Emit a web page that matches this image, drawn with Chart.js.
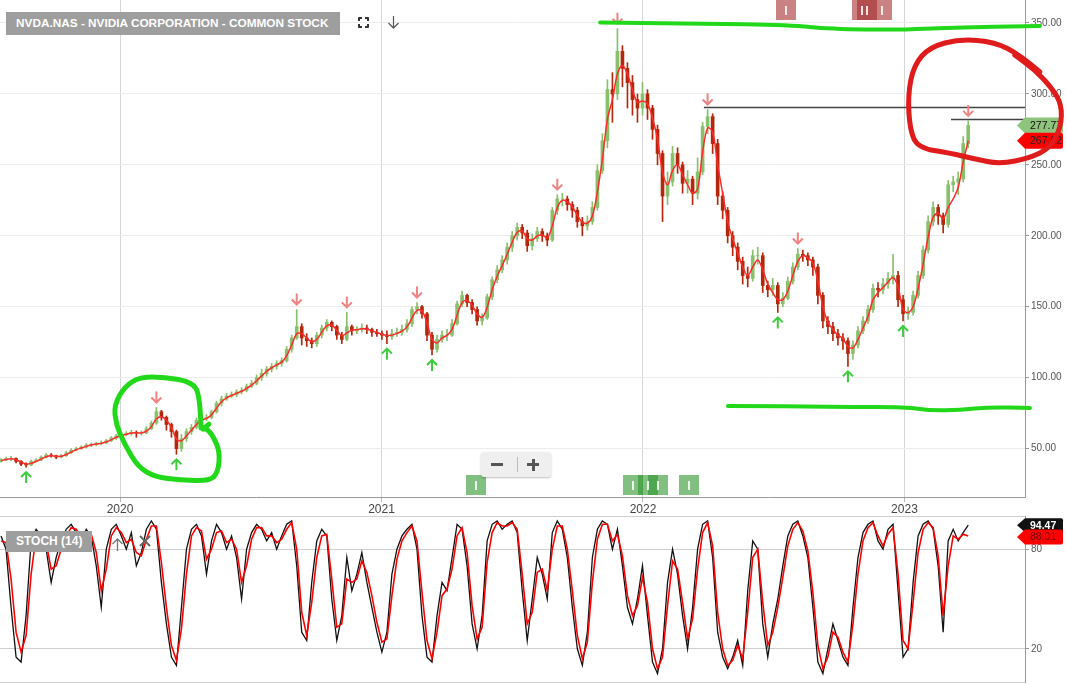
<!DOCTYPE html>
<html>
<head>
<meta charset="utf-8">
<script src="https://cdn.jsdelivr.net/npm/chart.js"></script>
<style>
  html, body { margin: 0; padding: 0; background: #fff; }
  body { width: 1067px; height: 684px; position: relative; overflow: hidden; font-family: Arial, "Liberation Sans", sans-serif; }
  #priceWrap { position: absolute; left: 0; top: 0; width: 1067px; height: 516px; }
  #stochWrap { position: absolute; left: 0; top: 516px; width: 1067px; height: 168px; }
  .tag { position: absolute; box-sizing: border-box; background: #9e9e9e; color: #fff; font-weight: bold; padding: 0 0 0 10px; white-space: nowrap; }
  #titleTag { left: 6px; top: 12px; width: 334px; height: 23px; line-height: 23px; font-size: 11.8px; }
  #stochTag { left: 6px; top: 531px; width: 86px; height: 21px; line-height: 21px; font-size: 12px; }
  #zoomBox { position: absolute; left: 481px; top: 452px; width: 70px; height: 25px; background: #efefef; border-radius: 3px; box-shadow: 0 1px 2px rgba(0,0,0,0.25); }
  #zoomBox .bar { position: absolute; background: #555; }
  #zoomBox .sep { position: absolute; left: 36px; top: 5px; width: 1px; height: 15px; background: #bbb; }
</style>
</head>
<body>
<div id="priceWrap"><canvas id="priceChart"></canvas></div>
<div id="stochWrap"><canvas id="stochChart"></canvas></div>
<div class="tag" id="titleTag">NVDA.NAS - NVIDIA CORPORATION - COMMON STOCK</div>
<div class="tag" id="stochTag">STOCH (14)</div>
<div id="zoomBox">
  <div class="bar" style="left:10px;top:11px;width:12px;height:3px"></div>
  <div class="sep"></div>
  <div class="bar" style="left:46px;top:11px;width:12px;height:3px"></div>
  <div class="bar" style="left:50.5px;top:6.5px;width:3px;height:12px"></div>
</div>
<script>
// weekly candles, first week mid July 2019
const FIRST_WEEK = 2019.545;
const X_MIN = 2019.541;
const X_MAX = 2023.461;
const Y_MIN = 15.9;
const Y_MAX = 366.2;

const yearTicks = [2020, 2021, 2022, 2023];
const priceTicks = [50, 100, 150, 200, 250, 300, 350];
const stochTicks = [20, 80];

const opens = [
  41, 42, 43, 43, 41, 39, 38.5, 41, 42, 44,
  45.5, 45, 44, 45, 47, 49, 50, 51, 52.5, 53,
  53.5, 54, 55.5, 57.5, 59, 60, 60.5, 61.5, 61, 61,
  64, 68, 76, 72, 67, 62, 50, 57, 62, 65,
  70, 71, 72, 76, 82, 85, 87, 88, 90, 91,
  94, 96, 100, 103, 106, 108, 110, 112, 120, 128,
  136, 128, 126, 124, 130, 135, 139, 136, 130, 127,
  136, 133, 134, 135, 134, 132, 131, 130, 129, 131,
  132, 134, 138, 148, 150, 145, 130, 120, 127, 130,
  130, 138, 152, 158, 153, 148, 140, 142, 157, 169,
  176, 183, 192, 200, 206, 202, 193, 198, 203, 200,
  197, 218, 226, 226, 222, 218, 210, 207, 210, 220,
  246, 267, 303, 300, 330, 318, 308, 296, 290, 300,
  290, 275, 258, 228, 238, 258, 250, 237, 240, 230,
  245, 277, 284, 265, 228, 218, 200, 192, 182, 172,
  170, 186, 186, 165, 162, 165, 152, 156, 168, 178,
  187, 186, 183, 178, 158, 140, 136, 131, 128, 126,
  117, 123, 133, 140, 148, 163, 162, 166, 170, 172,
  155, 145, 146, 158, 172, 190, 210, 220, 214, 208,
  236, 238, 240, 265
];
const highs = [
  43, 44, 44.5, 43.5, 41.5, 40, 42, 43, 45, 46.5,
  46.5, 45.5, 46, 48, 50, 51, 52, 53.5, 54, 54.5,
  55.5, 56.5, 58.5, 60, 61.5, 62, 63, 62.5, 62.5, 65.5,
  69.5, 79, 77, 73, 68, 63, 60, 64, 67, 71.5,
  73, 74, 77, 83.5, 87, 89, 90, 91.5, 93, 95.5,
  98, 102, 106, 108, 110, 112, 114, 122, 130, 148,
  138, 131, 128, 132, 137, 141, 140, 137, 132, 146,
  137, 136, 138, 137, 135, 134, 133, 133, 134, 135,
  137, 141, 150, 153, 151, 146, 132, 130, 133, 134,
  141, 154, 161, 159, 155, 150, 145, 159, 171, 179,
  186, 195, 203, 209, 208, 204, 201, 206, 205, 202,
  220, 229, 230, 228, 224, 220, 213, 214, 224, 250,
  272, 310, 315, 346, 334, 322, 313, 300, 308, 303,
  292, 278, 260, 245, 263, 262, 252, 246, 242, 255,
  280, 289, 286, 268, 231, 220, 203, 195, 185, 178,
  190, 192, 188, 168, 170, 167, 160, 171, 181, 191,
  190, 188, 185, 180, 160, 143, 139, 134, 131, 128,
  126, 136, 143, 151, 166, 167, 170, 174, 187, 175,
  158, 150, 161, 175, 193, 214, 224, 222, 216, 239,
  242, 245, 270, 281
];
const lows = [
  40.5, 41.5, 41.5, 40, 38, 37, 38, 40.5, 41.5, 43.5,
  44, 43, 43.5, 44.5, 46.5, 48.5, 49.5, 50.5, 51.5, 52,
  52.5, 53.5, 55, 56.5, 58, 59, 59.5, 58, 59.5, 60.5,
  63.5, 67, 70, 63, 58, 46, 48, 55, 60, 64,
  67.5, 69.5, 71, 75, 80, 84, 86, 86.5, 88.5, 90,
  93, 95, 98, 101, 104, 106, 108, 111, 118, 127,
  123, 122, 121, 122, 128, 133, 133, 127, 124, 126,
  130, 131, 132, 131, 129, 129, 127, 124, 127, 129,
  130, 132, 136, 145, 142, 126, 116, 118, 125, 126,
  129, 137, 150, 150, 145, 137, 137, 141, 155, 167,
  174, 180, 189, 197, 198, 189, 190, 196, 196, 193,
  196, 215, 221, 218, 213, 206, 200, 204, 208, 218,
  244, 262, 280, 296, 305, 290, 285, 280, 285, 282,
  268, 250, 210, 222, 235, 244, 230, 230, 222, 226,
  243, 272, 258, 222, 212, 195, 186, 176, 166, 164,
  168, 180, 160, 157, 158, 146, 150, 155, 166, 176,
  182, 179, 172, 152, 135, 131, 126, 123, 120, 108,
  113, 121, 131, 138, 146, 157, 159, 163, 166, 150,
  140, 141, 144, 156, 170, 188, 207, 208, 202, 206,
  231, 229, 238, 262
];
const closes = [
  42, 43, 43, 41, 39, 38.5, 41, 42, 44, 45.5,
  45, 44, 45, 47, 49, 50, 51, 52.5, 53, 53.5,
  54, 55.5, 57.5, 59, 60, 60.5, 61.5, 61, 61, 64,
  68, 76, 72, 67, 62, 50, 57, 62, 65, 70,
  71, 72, 76, 82, 85, 87, 88, 90, 91, 94,
  96, 100, 103, 106, 108, 110, 112, 120, 128, 136,
  128, 126, 124, 130, 135, 139, 136, 130, 127, 136,
  133, 134, 135, 134, 132, 131, 130, 129, 131, 132,
  134, 138, 148, 150, 145, 130, 120, 127, 130, 130,
  138, 152, 158, 153, 148, 140, 142, 157, 169, 176,
  183, 192, 200, 206, 202, 193, 198, 203, 200, 197,
  218, 226, 226, 222, 218, 210, 207, 210, 220, 246,
  267, 303, 300, 330, 318, 308, 296, 290, 300, 290,
  275, 258, 228, 238, 258, 250, 237, 240, 230, 245,
  277, 284, 265, 228, 218, 200, 192, 182, 172, 170,
  186, 186, 165, 162, 165, 152, 156, 168, 178, 187,
  186, 183, 178, 158, 140, 136, 131, 128, 126, 117,
  123, 133, 140, 148, 163, 162, 166, 170, 172, 155,
  145, 146, 158, 172, 190, 210, 220, 214, 208, 236,
  238, 240, 265, 277.77
];
const maValues = [
  41.5, 42.3, 42.8, 42.2, 40.5, 39.2, 39.6, 41, 42.6, 44.3,
  45, 44.6, 44.6, 45.8, 47.6, 49.2, 50.4, 51.6, 52.6, 53.2,
  53.7, 54.8, 56.3, 58, 59.3, 60.1, 61, 61.2, 61, 62.3,
  65.5, 71, 72.5, 70, 65, 57, 55.5, 59, 63, 67,
  70, 71.3, 73.8, 78.5, 83, 85.8, 87.4, 89, 90.4, 92.4,
  94.8, 97.8, 101.3, 104.5, 107, 109, 111, 115.5, 123, 131,
  131, 128, 125.5, 127, 132, 136.5, 137, 133.5, 129.5, 131.5,
  133.5, 133.8, 134.5, 134.3, 133, 131.8, 130.7, 129.7, 130, 131.2,
  132.8, 135.8, 142, 147.5, 147, 138.5, 127, 124.5, 128, 129.8,
  134, 144, 153, 154.5, 151, 145, 142.5, 149.5, 162, 171.5,
  179, 187, 195.5, 202.5, 203.5, 198, 197, 200, 200.5, 198.5,
  207, 220, 225, 224, 220.5, 214.5, 209.5, 209, 214, 231,
  254, 282, 296, 314, 320, 314, 303, 294, 295, 293,
  283, 268, 245, 236, 246, 250, 243, 236, 230, 233,
  259, 276, 273, 250, 230, 210, 198, 188, 178, 172,
  178, 183, 176, 166, 160, 155, 155, 161, 172, 182,
  186, 184.5, 181, 168, 150, 139, 134, 130, 127.5, 122,
  121, 127, 135, 143, 155, 160, 163.5, 167.5, 170.5, 164,
  148, 146, 150, 163, 180, 199, 213, 216, 212, 220,
  226, 234, 252, 267.02
];
const stochK = [
  88, 80, 45, 15, 12, 40, 85, 92, 88, 80,
  60, 75, 85, 92, 95, 90, 85, 92, 88, 70,
  45, 80, 92, 95, 88, 80, 90, 70, 78, 92,
  97, 92, 60, 35, 15, 10, 45, 80, 92, 95,
  88, 65, 85, 95, 90, 80, 88, 75, 50, 80,
  90, 95, 92, 85, 90, 80, 88, 95, 97, 70,
  30, 25, 60, 85, 92, 88, 50, 25, 40, 75,
  55, 65, 78, 60, 45, 30, 18, 30, 65, 80,
  88, 92, 95, 80, 40, 15, 12, 40, 60, 55,
  75, 95, 92, 70, 35, 20, 40, 85, 95, 97,
  92, 95, 97, 90, 55, 25, 50, 75, 65, 50,
  90, 97, 92, 75, 45, 20, 10, 30, 75, 92,
  97, 95, 80, 92, 70, 45, 35, 50, 70, 40,
  12, 5, 20, 60, 80, 65, 40, 20, 45, 80,
  95, 97, 75, 30, 15, 8, 15, 25, 10, 55,
  85, 80, 35, 15, 35, 50, 70, 88, 95, 97,
  88, 75, 45, 12, 5, 20, 35, 25, 15, 10,
  45, 75, 90, 95, 97, 85, 80, 92, 95, 55,
  15, 20, 60, 88, 95, 97, 92, 70, 30, 85,
  92, 85, 90, 94.47
];
const stochD = [
  85, 84, 62, 30, 18, 28, 65, 88, 89, 84,
  68, 70, 80, 88, 93, 92, 87, 89, 89, 78,
  55, 68, 88, 93, 90, 84, 86, 78, 76, 86,
  94, 94, 72, 45, 22, 13, 32, 65, 88, 93,
  91, 74, 80, 90, 91, 84, 86, 80, 60, 70,
  86, 93, 93, 88, 88, 84, 86, 92, 96, 80,
  42, 28, 48, 75, 88, 89, 62, 33, 35, 62,
  60, 62, 73, 66, 52, 36, 24, 26, 52, 74,
  85, 90, 94, 85, 54, 25, 14, 30, 52, 56,
  68, 88, 93, 78, 46, 26, 33, 72, 90, 96,
  94, 94, 96, 92, 65, 35, 42, 66, 68, 55,
  80, 94, 94, 80, 55, 28, 14, 24, 60, 86,
  95, 95, 85, 89, 76, 52, 40, 46, 63, 48,
  20, 8, 15, 46, 73, 68, 48, 26, 38, 68,
  90, 96, 82, 42, 20, 10, 13, 22, 14, 42,
  75, 80, 48, 22, 30, 45, 63, 82, 92, 96,
  91, 79, 54, 22, 8, 15, 30, 27, 18, 12,
  35, 65, 85, 93, 96, 88, 82, 89, 93, 65,
  25, 20, 48, 78, 92, 96, 93, 76, 40, 70,
  88, 86, 89, 88.01
];

// signal arrows (week index), event flags (decimal year)
const sellSignals = [31, 59, 69, 83, 111, 123, 141, 159, 193];
const buySignals = [5, 35, 77, 86, 155, 169, 180];
const topEvents = [2022.547, 2022.838, 2022.857, 2022.914];
const bottomEvents = [2021.361, 2021.962, 2022.019, 2022.057, 2022.176];
const levelLines = [[2022.233, 290.5], [2023.178, 282.3]];

// hand drawn marks, in [year, price]
const topGreenLine = [[2021.836, 350.4], [2022.218, 349.6], [2022.562, 348.6], [2022.715, 345.8], [2022.983, 345.1], [2023.174, 346.8], [2023.518, 347.9]];
const bottomGreenLine = [[2022.325, 80.0], [2022.447, 80.0], [2022.791, 79.3], [2023.002, 79.3], [2023.098, 76.8], [2023.212, 77.2], [2023.327, 79.3], [2023.480, 78.6]];
const redCircle = [[2023.518, 315.5], [2023.442, 327.4], [2023.346, 336.6], [2023.212, 338.7], [2023.097, 333.1], [2023.036, 320.4], [2023.013, 299.2], [2023.021, 274.6], [2023.052, 261.9], [2023.174, 258.4], [2023.269, 254.1], [2023.365, 250.6], [2023.480, 254.8], [2023.556, 261.9], [2023.598, 276.0], [2023.602, 292.2], [2023.564, 304.2], [2023.499, 316.9], [2023.422, 327.4]];
const greenCircle = [[2020.310, 64.5], [2020.306, 87.8], [2020.275, 96.9], [2020.172, 100.5], [2020.076, 100.5], [2020.019, 94.1], [2019.977, 80.7], [2019.985, 66.6], [2020.019, 52.5], [2020.069, 37.0], [2020.134, 30.0], [2020.229, 27.9], [2020.344, 27.2], [2020.375, 33.5], [2020.382, 47.6], [2020.356, 58.9], [2020.329, 64.5], [2020.313, 63.1], [2020.340, 67.3]];

const UP = '#88c06c';
const DOWN = '#b3280c';

const weekYears = closes.map((_, i) => FIRST_WEEK + (i * 7) / 365.25);

function candleColor(ctx) {
  const i = ctx.dataIndex;
  return closes[i] >= opens[i] ? UP : DOWN;
}

// the right axis should not push the plot area down for its top label
function fitRightAxis(s) {
  s.width = 42;
  s.paddingTop = 0;
  s.paddingBottom = 0;
}

function smoothPath(ctx, pts) {
  ctx.beginPath();
  ctx.moveTo(pts[0][0], pts[0][1]);
  for (let i = 1; i < pts.length - 1; i += 1) {
    const mx = (pts[i][0] + pts[i + 1][0]) / 2;
    const my = (pts[i][1] + pts[i + 1][1]) / 2;
    ctx.quadraticCurveTo(pts[i][0], pts[i][1], mx, my);
  }
  const last = pts[pts.length - 1];
  ctx.lineTo(last[0], last[1]);
  ctx.stroke();
}

function arrow(ctx, xp, tip, dir, color) {
  ctx.strokeStyle = color;
  ctx.lineWidth = 2;
  ctx.beginPath();
  ctx.moveTo(xp, tip - dir * 11);
  ctx.lineTo(xp, tip - dir);
  ctx.moveTo(xp - 5, tip - dir * 5);
  ctx.lineTo(xp, tip);
  ctx.lineTo(xp + 5, tip - dir * 5);
  ctx.stroke();
}

function badge(ctx, right, yp, h, fill, text, color, bold) {
  ctx.fillStyle = fill;
  ctx.beginPath();
  ctx.moveTo(right - 8, yp);
  ctx.lineTo(right, yp - h / 2);
  ctx.lineTo(right + 36, yp - h / 2);
  ctx.quadraticCurveTo(right + 38, yp - h / 2, right + 38, yp - h / 2 + 2);
  ctx.lineTo(right + 38, yp + h / 2 - 2);
  ctx.quadraticCurveTo(right + 38, yp + h / 2, right + 36, yp + h / 2);
  ctx.lineTo(right, yp + h / 2);
  ctx.closePath();
  ctx.fill();
  ctx.fillStyle = color;
  ctx.font = (bold ? 'bold ' : '') + '10.5px Arial, "Liberation Sans", sans-serif';
  ctx.textAlign = 'left';
  ctx.textBaseline = 'middle';
  ctx.fillText(text, right + 5, yp + 0.5);
}

function eventFlags(ctx, years, px, top, fill) {
  ctx.fillStyle = fill;
  years.forEach((v) => ctx.fillRect(Math.round(px(v)) - 10, top, 20, 20));
  ctx.fillStyle = 'rgba(255,255,255,0.85)';
  years.forEach((v) => ctx.fillRect(Math.round(px(v)) - 1, top + 6, 2, 9));
}

const priceOverlay = {
  id: 'priceOverlay',
  afterDraw(chart) {
    const { ctx, chartArea } = chart;
    const px = (v) => chart.scales.x.getPixelForValue(v);
    const py = (v) => chart.scales.y.getPixelForValue(v);
    const toPix = (pts) => pts.map((p) => [px(p[0]), py(p[1])]);
    ctx.save();

    eventFlags(ctx, topEvents, px, 0, 'rgba(165,45,45,0.6)');
    eventFlags(ctx, bottomEvents, px, chartArea.bottom - 22, 'rgba(45,150,45,0.6)');

    ctx.strokeStyle = '#444';
    ctx.lineWidth = 1.5;
    levelLines.forEach(([from, value]) => {
      ctx.beginPath();
      ctx.moveTo(px(from), Math.round(py(value)) + 0.5);
      ctx.lineTo(chartArea.right, Math.round(py(value)) + 0.5);
      ctx.stroke();
    });

    sellSignals.forEach((i) => arrow(ctx, px(weekYears[i]), py(highs[i]) - 5, 1, '#f08282'));
    buySignals.forEach((i) => arrow(ctx, px(weekYears[i]), py(lows[i]) + 5, -1, '#3dcc3d'));

    const last = closes.length - 1;
    badge(ctx, chartArea.right, py(closes[last]), 16, '#8fc47c', closes[last].toFixed(2), '#111', false);
    badge(ctx, chartArea.right, py(maValues[last]), 16, '#ff0000', maValues[last].toFixed(2), '#222', false);

    ctx.lineCap = 'round';
    ctx.lineJoin = 'round';
    ctx.strokeStyle = '#22d81a';
    ctx.lineWidth = 4;
    smoothPath(ctx, toPix(topGreenLine));
    smoothPath(ctx, toPix(bottomGreenLine));
    ctx.lineWidth = 5;
    smoothPath(ctx, toPix(greenCircle));
    ctx.strokeStyle = '#e01b1b';
    smoothPath(ctx, toPix(redCircle));

    // chart tool icons next to the title
    ctx.lineCap = 'butt';
    ctx.strokeStyle = '#333';
    ctx.lineWidth = 2;
    ctx.beginPath();
    ctx.moveTo(359, 21); ctx.lineTo(359, 18); ctx.lineTo(362, 18);
    ctx.moveTo(365, 18); ctx.lineTo(368, 18); ctx.lineTo(368, 21);
    ctx.moveTo(368, 24); ctx.lineTo(368, 27); ctx.lineTo(365, 27);
    ctx.moveTo(362, 27); ctx.lineTo(359, 27); ctx.lineTo(359, 24);
    ctx.stroke();
    ctx.strokeStyle = '#555';
    ctx.lineWidth = 1.2;
    ctx.beginPath();
    ctx.moveTo(393.5, 16); ctx.lineTo(393.5, 28);
    ctx.moveTo(388.5, 23); ctx.lineTo(393.5, 28); ctx.lineTo(398.5, 23);
    ctx.stroke();
    ctx.restore();
  },
};

const stochOverlay = {
  id: 'stochOverlay',
  beforeDatasetsDraw(chart) {
    const { ctx, chartArea } = chart;
    ctx.save();
    ctx.strokeStyle = '#cfcfcf';
    ctx.lineWidth = 1;
    ctx.beginPath();
    ctx.moveTo(0, 0.5); ctx.lineTo(chartArea.right, 0.5);
    ctx.moveTo(0, chartArea.bottom + 0.5); ctx.lineTo(chartArea.right, chartArea.bottom + 0.5);
    ctx.stroke();
    ctx.restore();
  },
  afterDraw(chart) {
    const { ctx, chartArea } = chart;
    const py = (v) => chart.scales.y.getPixelForValue(v);
    const last = stochK.length - 1;
    ctx.save();
    badge(ctx, chartArea.right, py(stochK[last]), 14, '#111', stochK[last].toFixed(2), '#fff', true);
    badge(ctx, chartArea.right, py(stochD[last]) + 1, 15, '#ff0000', stochD[last].toFixed(2), '#6a0000', false);
    // panel icons
    ctx.strokeStyle = '#777';
    ctx.lineWidth = 1.3;
    ctx.beginPath();
    ctx.moveTo(117.5, 23); ctx.lineTo(117.5, 35);
    ctx.moveTo(112.5, 28); ctx.lineTo(117.5, 23); ctx.lineTo(122.5, 28);
    ctx.stroke();
    ctx.strokeStyle = '#666';
    ctx.lineWidth = 2;
    ctx.beginPath();
    ctx.moveTo(140, 20); ctx.lineTo(150, 30);
    ctx.moveTo(150, 20); ctx.lineTo(140, 30);
    ctx.stroke();
    ctx.restore();
  },
};

function priceChart() {
  const wickData = weekYears.map((x, i) => ({ x, y: [lows[i], highs[i]] }));
  const bodyData = weekYears.map((x, i) => ({ x, y: [opens[i], closes[i]] }));
  const maData = weekYears.map((x, i) => ({ x, y: maValues[i] }));

  const config = {
    type: 'bar',
    data: {
      datasets: [
        { type: 'line', data: maData, borderColor: '#ff2a2a', borderWidth: 1.5, pointRadius: 0, tension: 0.35, order: 0 },
        { data: bodyData, backgroundColor: candleColor, barThickness: 3, grouped: false, order: 1 },
        { data: wickData, backgroundColor: candleColor, barThickness: 1, grouped: false, order: 2 },
      ],
    },
    options: {
      animation: false,
      responsive: true,
      maintainAspectRatio: false,
      events: [],
      layout: { padding: 0 },
      plugins: { legend: { display: false }, tooltip: { enabled: false } },
      scales: {
        x: {
          type: 'linear',
          min: X_MIN,
          max: X_MAX,
          offset: false,
          afterBuildTicks: (s) => { s.ticks = yearTicks.map((v) => ({ value: v })); },
          afterFit: (s) => { s.height = 19; },
          ticks: { callback: (v) => String(v), color: '#444', font: { size: 12, family: 'Arial' }, padding: 0, maxRotation: 0, autoSkip: false },
          grid: { color: '#d6d6d6', tickColor: '#bbb', tickLength: 5, offset: false },
          border: { color: '#999' },
        },
        y: {
          position: 'right',
          min: Y_MIN,
          max: Y_MAX,
          afterBuildTicks: (s) => { s.ticks = priceTicks.map((v) => ({ value: v })); },
          afterFit: fitRightAxis,
          ticks: { callback: (v) => v.toFixed(2), color: '#555', font: { size: 10, family: 'Arial' }, padding: 2 },
          grid: { color: '#ececec', tickColor: '#999', tickLength: 4 },
          border: { color: '#999' },
        },
      },
    },
    plugins: [priceOverlay],
  };
  return new Chart(document.getElementById('priceChart'), config);
}

function stochChart() {
  const kData = weekYears.map((x, i) => ({ x, y: stochK[i] }));
  const dData = weekYears.map((x, i) => ({ x, y: stochD[i] }));

  const config = {
    type: 'line',
    data: {
      datasets: [
        { data: dData, borderColor: '#ff0000', borderWidth: 1.6, pointRadius: 0, tension: 0, order: 0 },
        { data: kData, borderColor: '#111', borderWidth: 1.3, pointRadius: 0, tension: 0, order: 1 },
      ],
    },
    options: {
      animation: false,
      responsive: true,
      maintainAspectRatio: false,
      events: [],
      layout: { padding: { top: 0, bottom: 2 } },
      plugins: { legend: { display: false }, tooltip: { enabled: false } },
      scales: {
        x: { type: 'linear', min: X_MIN, max: X_MAX, display: false },
        y: {
          position: 'right',
          min: 0,
          max: 100,
          afterBuildTicks: (s) => { s.ticks = stochTicks.map((v) => ({ value: v })); },
          afterFit: fitRightAxis,
          ticks: { color: '#555', font: { size: 10, family: 'Arial' }, padding: 2 },
          grid: { color: '#cfcfcf', tickColor: '#999', tickLength: 4 },
          border: { color: '#999' },
        },
      },
    },
    plugins: [stochOverlay],
  };
  return new Chart(document.getElementById('stochChart'), config);
}

priceChart();
stochChart();
</script>
</body>
</html>
